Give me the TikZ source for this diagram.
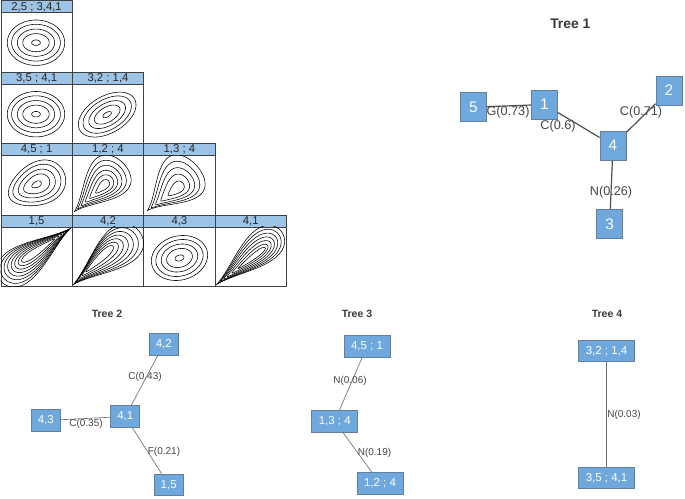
\documentclass[tikz,border=0pt]{standalone}
\usepackage{fontspec}
\setmainfont{Liberation Sans}
\definecolor{hdr}{HTML}{9DC3E6}
\definecolor{nodefill}{HTML}{6FA8DC}
\definecolor{nodeedge}{HTML}{62809E}
\definecolor{lbl}{HTML}{454545}
\definecolor{ttl}{HTML}{3A3A3A}
\definecolor{edgeA}{HTML}{505050}
\definecolor{edgeB}{HTML}{707070}

% blob: centre cx cy, half-length A, half-width B, px-angle of narrow end, egg factor e
\newcommand\blob[6]{%
 \draw[contour] plot[domain=0:360,samples=110] ({#1+(#3)*cos(\x)*cos(#5)-(#4)*sin(\x)*(1-(#6)*cos(\x))*sin(#5)},{#2+(#3)*cos(\x)*sin(#5)+(#4)*sin(\x)*(1-(#6)*cos(\x))*cos(#5)});}
% tear: round end F, narrow end T
\newcommand\tear[6]{%
 \pgfmathsetmacro\tcx{(#1+#3)/2}%
 \pgfmathsetmacro\tcy{(#2+#4)/2}%
 \pgfmathsetmacro\tA{veclen((#3)-(#1),(#4)-(#2))/2}%
 \pgfmathsetmacro\tang{atan2((#4)-(#2),(#3)-(#1))}%
 \blob{\tcx}{\tcy}{\tA}{#5}{\tang}{#6}}
% tearset: inner point I, outer F, outer T, B, tip exponent, list of levels
\newcommand\tearset[9]{%
 \foreach \lam in {#9} {%
  \pgfmathsetmacro\fx{#1+\lam*((#3)-(#1))}%
  \pgfmathsetmacro\fy{#2+\lam*((#4)-(#2))}%
  \pgfmathsetmacro\qq{\lam^(#8)}%
  \pgfmathsetmacro\ttx{#1+\qq*((#5)-(#1))}%
  \pgfmathsetmacro\tty{#2+\qq*((#6)-(#2))}%
  \pgfmathsetmacro\bb{(#7)*\lam^0.8}%
  \pgfmathsetmacro\ee{0.5+0.5*\lam}%
  \tear{\fx}{\fy}{\ttx}{\tty}{\bb}{\ee}%
 }}
\newcommand\ringset[7]{%
 \foreach \rA/\rB in {#7} {\blob{#1}{#2}{(#3)*\rA}{(#4)*\rB}{#5}{#6}}}
\newcommand\cellbox[4]{%
 \node[hdrnode, anchor=north west] (#1h) at (#2,#3) {#4};
 \node[cellnode, anchor=north west] (#1b) at (#2,#3+12) {};}

\tikzset{
 hdrnode/.style={draw=black!75, fill=hdr, line width=0.6pt, minimum width=53.55pt, minimum height=9pt, inner sep=0pt, text=black!85, font=\fontsize{8.5}{9}\selectfont},
 cellnode/.style={draw=black!75, line width=0.6pt, minimum width=53.55pt, minimum height=44.55pt, inner sep=0pt},
 contour/.style={black, line width=0.42pt},
 tnode/.style={draw=nodeedge, fill=nodefill, text=white, inner sep=0pt, line width=0.6pt},
 t1node/.style={tnode, minimum width=19.5pt, minimum height=21.75pt, font=\fontsize{11.5}{12}\selectfont},
 t2node/.style={tnode, minimum width=21.75pt, minimum height=16.3pt, font=\fontsize{8.6}{9}\selectfont},
 t3node/.style={t2node, minimum width=34.5pt},
 t4node/.style={t2node, minimum width=42pt},
 e1/.style={draw=edgeA, line width=0.9pt},
 e2/.style={draw=edgeB, line width=0.5pt},
 l1/.style={text=lbl, inner sep=0pt, font=\fontsize{9.5}{10}\selectfont},
 l2/.style={text=lbl, inner sep=0pt, font=\fontsize{7.5}{8}\selectfont},
 t1title/.style={text=ttl, inner sep=0pt, font=\fontsize{10.4}{11}\selectfont\bfseries},
 t2title/.style={text=ttl, inner sep=0pt, font=\fontsize{7.9}{8}\selectfont\bfseries},
}

\begin{document}
\begin{tikzpicture}[x=0.75pt,y=-0.75pt]
\useasboundingbox (0,0) rectangle (685,499);

% ---------- contour matrix ----------
\cellbox{c11}{0.5}{0.5}{2,5 ; 3,4,1}
\cellbox{c21}{0.5}{71.9}{3,5 ; 4,1}
\cellbox{c22}{71.9}{71.9}{3,2 ; 1,4}
\cellbox{c31}{0.5}{143.3}{4,5 ; 1}
\cellbox{c32}{71.9}{143.3}{1,2 ; 4}
\cellbox{c33}{143.3}{143.3}{1,3 ; 4}
\cellbox{c41}{0.5}{214.7}{1,5}
\cellbox{c42}{71.9}{214.7}{4,2}
\cellbox{c43}{143.3}{214.7}{4,3}
\cellbox{c44}{214.7}{214.7}{4,1}

\begin{scope}\clip (c11b.north west) rectangle (c11b.south east);
 \ringset{36}{42.7}{28.7}{22.7}{0}{0}{1/1,0.85/0.81,0.65/0.6,0.46/0.4,0.15/0.12}
\end{scope}
\begin{scope}\clip (c21b.north west) rectangle (c21b.south east);
 \ringset{36}{114.2}{28.7}{22.7}{0}{0}{1/1,0.85/0.81,0.65/0.6,0.46/0.4,0.15/0.12}
\end{scope}
\begin{scope}\clip (c22b.north west) rectangle (c22b.south east);
 \ringset{107.2}{114.6}{31.5}{18.5}{-30}{0}{1/1,0.84/0.82,0.64/0.6,0.45/0.4,0.15/0.12}
\end{scope}
\begin{scope}\clip (c31b.north west) rectangle (c31b.south east);
 \ringset{36.5}{184.6}{30}{21}{155}{0.2}{1/1,0.84/0.82,0.65/0.62,0.46/0.42,0.17/0.14}
\end{scope}
\begin{scope}\clip (c32b.north west) rectangle (c32b.south east);
 \tearset{106}{184}{123}{163}{74}{212}{17}{0.6}{1,0.82,0.65,0.48,0.32,0.15}
\end{scope}
\begin{scope}\clip (c33b.north west) rectangle (c33b.south east);
 \tearset{180}{187}{196}{165}{147}{211}{19}{0.6}{1,0.8,0.6,0.4,0.18}
\end{scope}
\begin{scope}\clip (c41b.north west) rectangle (c41b.south east);
 \tearset{26}{258}{0}{280}{71}{228}{14}{0.25}{1,0.88,0.76,0.64,0.52,0.4,0.28,0.16}
\end{scope}
\begin{scope}\clip (c42b.north west) rectangle (c42b.south east);
 \tearset{108}{249}{139}{231}{73}{285}{15}{0.25}{1,0.86,0.72,0.58,0.44,0.3,0.16}
\end{scope}
\begin{scope}\clip (c43b.north west) rectangle (c43b.south east);
 \ringset{179.5}{258}{28.5}{22}{-15}{0}{1/1,0.84/0.82,0.65/0.62,0.46/0.42,0.16/0.13}
\end{scope}
\begin{scope}\clip (c44b.north west) rectangle (c44b.south east);
 \tearset{263}{250}{281}{231}{216}{285}{13}{0.3}{1,0.85,0.7,0.55,0.4,0.25,0.12}
\end{scope}

% ---------- Tree 1 ----------
\node[t1title] (tt1) at (570.3,23.3) {Tree 1};
\node[t1node] (n5) at (473.3,107.2) {5};
\node[t1node] (n1) at (544.5,104.5) {1};
\node[t1node] (n2) at (669,90.5) {2};
\node[t1node] (n4) at (613,145.5) {4};
\node[t1node] (n3) at (609.7,223.8) {3};
\draw[e1] (n5) -- (n1);
\draw[e1] (n1) -- (n4);
\draw[e1] (n4) -- (n2);
\draw[e1] (n4) -- (n3);
\node[l1] (g73) at (508,112.5) {G(0.73)};
\node[l1] (c06) at (558,126) {C(0.6)};
\node[l1] (c71) at (641,112.5) {C(0.71)};
\node[l1] (n26) at (611,192.5) {N(0.26)};

% ---------- Tree 2 ----------
\node[t2title] (tt2) at (107,314.3) {Tree 2};
\node[t2node] (a42) at (163.8,344.2) {4,2};
\node[t2node] (a41) at (125.3,416.5) {4,1};
\node[t2node] (a43) at (45.8,420.5) {4,3};
\node[t2node] (a15) at (168.7,484.8) {1,5};
\draw[e2] (a41) -- (a42);
\draw[e2] (a41) -- (a43);
\draw[e2] (a41) -- (a15);
\node[l2] (c43l) at (145,376.7) {C(0.43)};
\node[l2] (c35l) at (86,423.5) {C(0.35)};
\node[l2] (f21l) at (164,451.5) {F(0.21)};

% ---------- Tree 3 ----------
\node[t2title] (tt3) at (357,314.2) {Tree 3};
\node[t3node] (b451) at (367,346.2) {4,5 ; 1};
\node[t3node] (b134) at (334.7,421.2) {1,3 ; 4};
\node[t3node] (b124) at (380,483.3) {1,2 ; 4};
\draw[e2] (b451) -- (b134);
\draw[e2] (b134) -- (b124);
\node[l2] (n06l) at (350,380.5) {N(0.06)};
\node[l2] (n19l) at (374.5,452.5) {N(0.19)};

% ---------- Tree 4 ----------
\node[t2title] (tt4) at (607,314.2) {Tree 4};
\node[t4node] (c3214) at (606.5,350.8) {3,2 ; 1,4};
\node[t4node] (c3541) at (606.5,477.8) {3,5 ; 4,1};
\draw[e2] (c3214) -- (c3541);
\node[l2] (n03l) at (624,415) {N(0.03)};
\end{tikzpicture}
\end{document}
